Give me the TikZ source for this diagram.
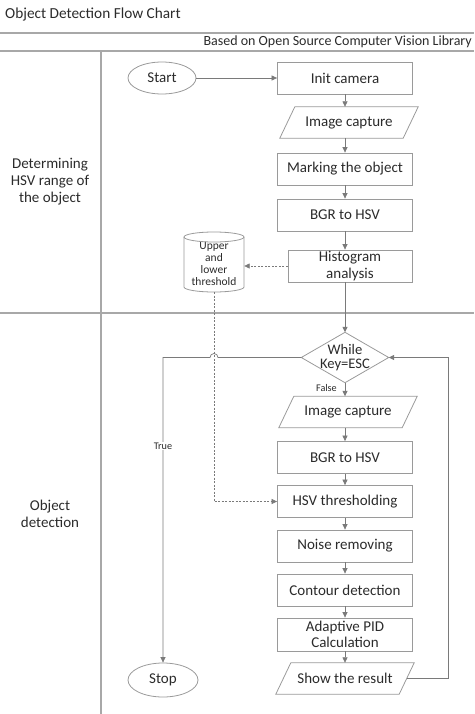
\documentclass[tikz,border=0pt]{standalone}
\usepackage{fontspec}
\setmainfont{Carlito}
\usetikzlibrary{arrows.meta,calc,shapes.geometric}
\definecolor{txt}{HTML}{2B2B2B}
\definecolor{sep}{HTML}{A8A8A8}
\definecolor{bord}{HTML}{9A9A9A}
\definecolor{conc}{HTML}{7A7A7A}
\tikzset{
  every node/.style={text=txt,font=\fontsize{15}{17}\selectfont,inner sep=0pt},
  boxn/.style={draw=bord,line width=0.8pt,minimum width=135pt,minimum height=32pt,align=center},
  plain/.style={draw=none,minimum height=31pt,minimum width=123pt},
  term/.style={draw=bord,line width=0.8pt,ellipse,align=center},
  conn/.style={draw=conc,line width=0.7pt,-{Triangle[length=5.5pt,width=5pt]}},
  dconn/.style={conn,dash pattern=on 2pt off 1.5pt},
  sepline/.style={draw=sep,line width=1.1pt},
  small/.style={font=\fontsize{10.2}{12}\selectfont}
}
\newcommand{\myparal}[1]{\draw[draw=bord,line width=0.8pt] ([xshift=-7.5pt]#1.south west) -- ([xshift=7.5pt]#1.north west) -- ([xshift=7.5pt]#1.north east) -- ([xshift=-7.5pt]#1.south east) -- cycle;}
\begin{document}
\begin{tikzpicture}[x=1pt,y=-1pt]
\useasboundingbox (0,0) rectangle (474,714);
% frame lines
\draw[sepline] (0,33) -- (474,33);
\draw[sepline] (0,51) -- (474,51);
\draw[sepline] (101,51) -- (101,714);
\draw[sepline] (0,313) -- (474,313);
% headings
\node[anchor=west,font=\fontsize{15.3}{17}\selectfont] (title) at (5,15) {Object Detection Flow Chart};
\node[anchor=east,font=\fontsize{14}{17}\selectfont] (based) at (472,42) {Based on Open Source Computer Vision Library};
\node[align=center] (lane1) at (50,182) {Determining\\HSV range of\\the object};
\node[align=center] (lane2) at (50,514) {Object\\detection};
% nodes
\node[term,minimum width=68pt,minimum height=32pt] (start) at (162,78) {Start};
\node[boxn] (init) at (345,78) {Init camera};
\node[plain] (ic1) at (349,122.5) {Image capture};
\myparal{ic1}
\node[boxn] (mark) at (345,169) {Marking the object};
\node[boxn] (bgr1) at (345,215) {BGR to HSV};
\node[boxn,minimum width=124pt,align=center,font=\fontsize{15}{17.5}\selectfont] (hist) at (350,266) {Histogram\\analysis};
% cylinder
\node[minimum width=60pt,minimum height=60pt,align=center,font=\fontsize{11.5}{11.8}\selectfont] (cyl) at (214,264) {Upper\\and\\lower\\threshold};
\draw[draw=bord,line width=0.8pt] (184,237) -- (184,287) arc[start angle=180,end angle=0,x radius=30,y radius=5] -- (244,237);
\draw[draw=bord,line width=0.8pt] (214,237) ellipse[x radius=30,y radius=5];
\coordinate (cylb) at (214,292);
% diamond
\node[minimum width=87pt,minimum height=50pt,align=center,font=\fontsize{14.6}{14}\selectfont] (dia) at (345,357.5) {While\\Key=ESC};
\draw[draw=bord,line width=0.8pt] (dia.north) -- (dia.east) -- (dia.south) -- (dia.west) -- cycle;
\node[plain] (ic2) at (348,412) {Image capture};
\myparal{ic2}
\node[boxn] (bgr2) at (345,457.5) {BGR to HSV};
\node[boxn] (hsvt) at (345,501.5) {HSV thresholding};
\node[boxn] (noise) at (345,546) {Noise removing};
\node[boxn] (cont) at (345,590) {Contour detection};
\node[boxn,minimum height=33pt,font=\fontsize{15}{16}\selectfont] (pid) at (345,634.5) {Adaptive PID\\Calculation};
\node[plain] (show) at (345,678.5) {Show the result};
\myparal{show}
\node[term,minimum width=70pt,minimum height=34pt] (stop) at (163,680) {Stop};
% connectors
\draw[conn] (start.east) -- (init.west);
\draw[conn] (init.south) -- (init.south |- ic1.north);
\draw[conn] (init.south |- ic1.south) -- (mark.north);
\draw[conn] (mark.south) -- (bgr1.north);
\draw[conn] (bgr1.south) -- (bgr1.south |- hist.north);
\draw[dconn] (hist.west) -- (hist.west -| cyl.east);
\draw[conn] (bgr1.south |- hist.south) -- (dia.north);
\draw[conn] (dia.south) -- (dia.south |- ic2.north);
\node[small,anchor=east] (false) at (337,388) {False};
\draw[conn] (dia.south |- ic2.south) -- (bgr2.north);
\draw[conn] (bgr2.south) -- (hsvt.north);
\draw[conn] (hsvt.south) -- (noise.north);
\draw[conn] (noise.south) -- (cont.north);
\draw[conn] (cont.south) -- (pid.north);
\draw[conn] (pid.south) -- (pid.south |- show.north);
\coordinate (loopc) at (448,678.5);
\draw[conn] (show.east) -- (loopc) |- (dia.east);
\coordinate (hopR) at (218,357.5);
\draw[conn] (dia.west) -- (hopR) arc[start angle=0,end angle=-180,radius=4] -| (stop.north);
\node[small,fill=white,inner sep=1pt] (true) at (163,446) {True};
\draw[dconn] (cylb) |- (hsvt.west);
\end{tikzpicture}
\end{document}
